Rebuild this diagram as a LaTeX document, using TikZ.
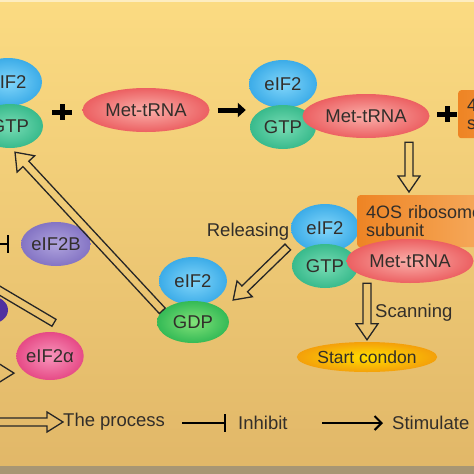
\documentclass[tikz,border=0pt]{standalone}
\usepackage{fontspec}
\setmainfont{Liberation Sans}
\usetikzlibrary{shapes.geometric,arrows.meta,calc}

\definecolor{bgtop}{RGB}{251,219,130}
\definecolor{bgbot}{RGB}{225,183,104}
\definecolor{strip}{RGB}{168,150,116}
\definecolor{txt}{RGB}{50,46,42}
\definecolor{bluein}{RGB}{130,214,250}
\definecolor{blueout}{RGB}{60,172,232}
\definecolor{tealin}{RGB}{120,220,180}
\definecolor{tealout}{RGB}{56,186,140}
\definecolor{grnin}{RGB}{130,226,120}
\definecolor{grnout}{RGB}{52,186,86}
\definecolor{redin}{RGB}{250,176,170}
\definecolor{redout}{RGB}{236,96,98}
\definecolor{purin}{RGB}{176,164,222}
\definecolor{purout}{RGB}{132,116,196}
\definecolor{pinkin}{RGB}{248,150,188}
\definecolor{pinkout}{RGB}{230,74,134}
\definecolor{darkpur}{RGB}{80,48,160}
\definecolor{orgL}{RGB}{238,132,36}
\definecolor{orgR}{RGB}{248,182,110}
\definecolor{yelin}{RGB}{255,222,0}
\definecolor{yelout}{RGB}{244,160,10}

\newcommand{\harrow}[3][11]{%
  \coordinate (hb) at ($(#3)!16pt!(#2)$);
  \draw[hollow] ($(#2)!4pt!90:(#3)$) -- ($(hb)!4pt!90:(#3)$) -- ($(hb)!#1pt!90:(#3)$)
    -- (#3) -- ($(hb)!#1pt!-90:(#3)$) -- ($(hb)!4pt!-90:(#3)$) -- ($(#2)!4pt!-90:(#3)$) -- cycle;}
\newcommand{\hshaft}[2]{%
  \draw[hollow] ($(#1)!4pt!90:(#2)$) -- ($(#2)!4pt!-90:(#1)$) -- ($(#2)!4pt!90:(#1)$) -- ($(#1)!4pt!-90:(#2)$) -- cycle;}

\begin{document}
\begin{tikzpicture}[x=1pt, y=-1pt,
    every node/.style={text=txt, font=\fontsize{18.5}{21}\selectfont},
    blob/.style={ellipse, inner sep=0pt},
    eif/.style={blob, minimum width=68pt, minimum height=48pt, inner color=bluein, outer color=blueout},
    gtp/.style={blob, minimum width=66pt, minimum height=44pt, inner color=tealin, outer color=tealout},
    gdp/.style={blob, minimum width=72pt, minimum height=42pt, inner color=grnin, outer color=grnout},
    met/.style={blob, minimum width=127pt, minimum height=44pt, inner color=redin, outer color=redout},
    ribo/.style={rectangle, rounded corners=3pt, left color=orgL, right color=orgR, align=left,
      text width=150pt, inner xsep=9pt, anchor=north west, font=\fontsize{18}{18}\selectfont},
    hollow/.style={draw=black!85, line width=1.3pt},
    fat/.style={line width=5pt, -{Triangle[length=8pt,width=14pt]}},
    inh/.style={line width=2pt, -{Bar[width=18pt]}},
    stim/.style={line width=2pt, -{Straight Barb[length=7pt,width=14pt]}}]

    \useasboundingbox (0,0) rectangle (474,474);
    \clip (0,0) rectangle (474,474);
    \shade[top color=bgtop, bottom color=bgbot] (0,0) rectangle (474,474);
    \fill[strip] (0,466) rectangle (474,474);
    \fill[bgtop!50!white] (0,0) rectangle (474,2);

    \foreach \n/\x/\y in {A/8/82, B/283/84, C/325/228, D/193/281}
      \draw (\x,\y) node[eif] (eif\n) {eIF2};
    \draw (458,90) node[ribo, minimum height=48pt] (riboB) {4OS ribosome\\subunit};
    \draw (357,195) node[ribo, minimum height=52pt] (riboC) {4OS ribosome\\subunit};
    \foreach \n/\x/\y in {A/10/126, B/283/127, C/325/266}
      \draw (\x,\y) node[gtp] (gtp\n) {GTP};
    \draw (193,322) node[gdp] (gdpD) {GDP};
    \foreach \n/\x/\y in {A/146/110, B/366/116, C/410/261}
      \draw (\x,\y) node[met] (met\n) {Met-tRNA};

    \draw (56,244) node[blob, minimum width=68pt, minimum height=44pt,
      inner color=purin, outer color=purout] (eif2B) {eIF2B};
    \draw (50,356) node[blob, minimum width=66pt, minimum height=48pt,
      inner color=pinkin, outer color=pinkout] (eif2a) {eIF2α};
    \draw (-10,310) node[blob, minimum width=36pt, minimum height=28pt, fill=darkpur] (kinase) {};
    \draw (367,357) node[blob, minimum width=120pt, minimum height=30pt,
      inner color=yelin, outer color=yelout, font=\fontsize{17.5}{20}\selectfont] (start) {Start condon};

    \draw (248,232) node (rel) {Releasing};
    \draw (375,313) node[anchor=west, inner sep=0pt] (scan) {Scanning};

    \draw[line width=5pt] (62,112) +(-10,0) -- +(10,0) +(0,-8) -- +(0,8);
    \draw[line width=5pt] (447,114) +(-10,0) -- +(10,0) +(0,-8) -- +(0,8);
    \draw[fat] ($(metA.east)+(8,0)$) -- ($(metA.east -| gtpB.west)+(-4,0)$);

    \coordinate (bigtail) at (gdpD.160);
    \coordinate (bigtip) at ($(gtpA.south)+(5,4)$);
    \harrow[12]{bigtail}{bigtip}
    \coordinate (downtop) at ($(metB.south)+(43,4)$);
    \coordinate (downtip) at ($(riboC.north west)+(52,-3)$);
    \harrow{downtop}{downtip}
    \coordinate (reltail) at ($(eifC.west)+(-3,19)$);
    \coordinate (reltip) at ($(eifD.east)+(6,19)$);
    \harrow{reltail}{reltip}
    \coordinate (scantop) at (start.north |- metC.south);
    \coordinate (scantip) at ($(start.north)+(0,-2)$);
    \harrow{scantop}{scantip}

    \coordinate (inhB) at (-5,244);
    \draw[inh, shorten >=12pt] (inhB) -- (eif2B.west);
    \coordinate (shafttop) at (-20,279);
    \coordinate (shaftend) at ($(eif2a.north)+(4,-9)$);
    \hshaft{shafttop}{shaftend}
    \coordinate (alphatail) at (-40,373);
    \coordinate (alphatip) at ($(eif2a.south west)+(-12,0)$);
    \harrow[10]{alphatail}{alphatip}

    \draw (63,422) node[anchor=west, inner sep=0pt] (proc) {The process};
    \draw (238,423) node[anchor=west, inner sep=0pt] (inhtxt) {Inhibit};
    \draw (392,423) node[anchor=west, inner sep=0pt] (stimtxt) {Stimulate};
    \coordinate (legA) at (-5,422);
    \coordinate (legB) at (182,423);
    \coordinate (legC) at (322,423);
    \harrow[10]{legA}{proc.west}
    \draw[inh, shorten >=12pt] (legB) -- (inhtxt.west);
    \draw[stim, shorten >=9pt] (legC) -- (stimtxt.west);

\end{tikzpicture}
\end{document}
